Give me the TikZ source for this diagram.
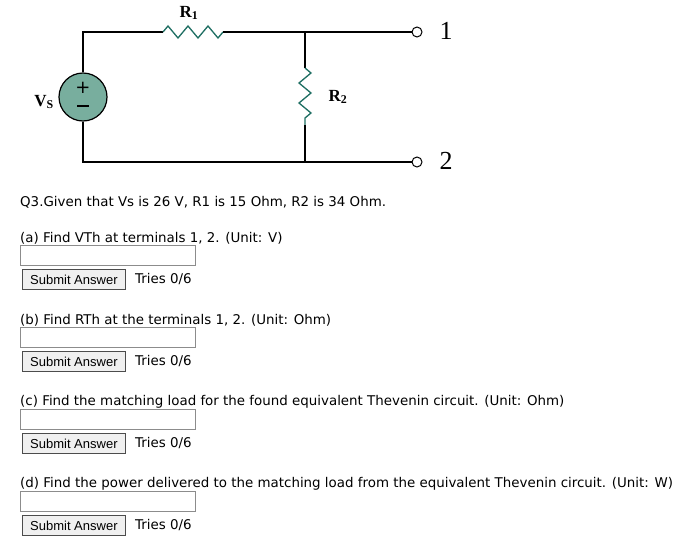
\documentclass[tikz,border=0pt]{standalone}
\usepackage{fontspec}
\setmainfont{DejaVu Sans}
\newfontfamily\btnfont{Liberation Sans}
\newfontfamily\serifb{Liberation Serif}
\usetikzlibrary{decorations.pathmorphing}
\definecolor{res}{HTML}{1E6E62}
\definecolor{src}{HTML}{78AE9E}
\begin{document}
\begin{tikzpicture}[x=1pt,y=-1pt,
  wire/.style={line width=1.6pt,black},
  resistor/.style={res,line width=1.3pt,decorate,decoration={zigzag,segment length=20pt,amplitude=6pt}},
  term/.style={circle,draw,line width=1pt,minimum size=10pt,inner sep=0pt,fill=white},
  lbl/.style={font=\serifb\bfseries\fontsize{17}{19}\selectfont,inner sep=0pt},
  num/.style={font=\serifb\fontsize{26}{28}\selectfont,inner sep=0pt},
  txt/.style={anchor=west,inner sep=0pt,font=\fontsize{13.4}{15}\selectfont},
  box/.style={draw=gray!90,line width=0.8pt},
  btn/.style={draw=gray!60!black,fill=gray!12,line width=0.8pt,minimum width=103pt,minimum height=20pt,inner sep=0pt,font=\btnfont\fontsize{13}{15}\selectfont,anchor=north west},
]
\useasboundingbox (0,0) rectangle (700,543);
% circuit
\coordinate (tl) at (83,32);
\coordinate (bl) at (83,162);
\coordinate (r1a) at (163,32);
\coordinate (r1b) at (223,32);
\coordinate (nt) at (305,32);
\coordinate (nb) at (305,162);
\coordinate (r2a) at (305,68);
\coordinate (r2b) at (305,125);
\node[circle,draw=black,line width=1.2pt,fill=src,minimum size=48pt,inner sep=0pt] (vs) at (83,97) {};
\node[term] (t1) at (417,32) {};
\node[term] (t2) at (417,162) {};
\draw[wire] (vs.north) -- (tl) -- (r1a);
\draw[resistor] (r1a) -- (r1b);
\draw[wire] (r1b) -- (nt) -- (t1.west);
\draw[wire] (nt) -- (r2a);
\draw[resistor] (r2a) -- (r2b);
\draw[wire] (r2b) -- (nb);
\draw[wire] (vs.south) -- (bl) -- (t2.west);
\node[font=\fontsize{18}{18}\selectfont,inner sep=0pt] at (83,88) {+};
\draw[line width=1.2pt] (77,106) -- (89,106);
\node[lbl] at (189,13) {R\textsubscript{1}};
\node[lbl] at (338,97) {R\textsubscript{2}};
\node[lbl] at (44,102) {V\textsubscript{S}};
\node[num] at (446,31) {1};
\node[num] at (446,161) {2};
% text
\node[txt] (q) at (20,202) {Q3.Given that Vs is 26 V, R1 is 15 Ohm, R2 is 34 Ohm.};
\foreach \y/\t in {238/{(a) Find VTh at terminals 1, 2. (Unit: V)},
                   320/{(b) Find RTh at the terminals 1, 2. (Unit: Ohm)},
                   402/{(c) Find the matching load for the found equivalent Thevenin circuit. (Unit: Ohm)},
                   484/{(d) Find the power delivered to the matching load from the equivalent Thevenin circuit. (Unit: W)}}{
  \node[txt] at (20,\y) {\t};
  \draw[box] (20,\y+7) rectangle (195,\y+27);
  \node[btn] at (22,\y+31) {Submit Answer};
  \node[txt] at (135,\y+41) {Tries 0/6};
}
\end{tikzpicture}
\end{document}
